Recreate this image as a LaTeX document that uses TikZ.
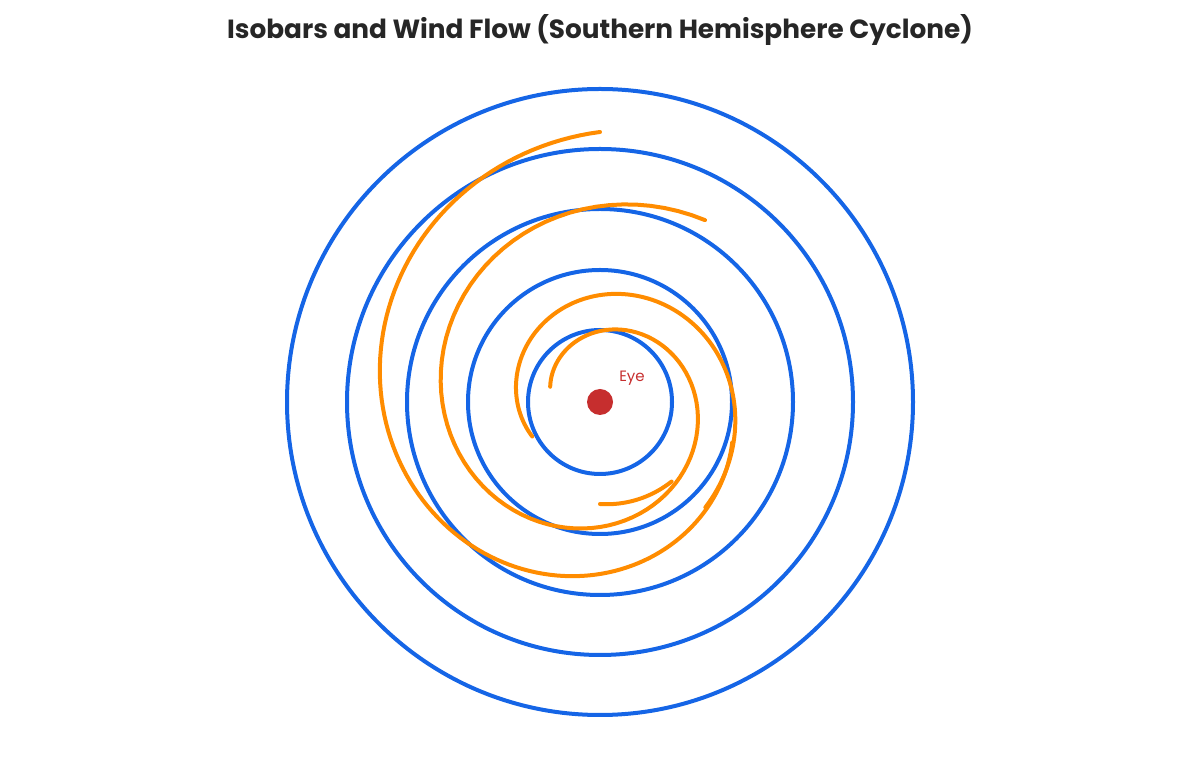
\documentclass[tikz,border=0pt]{standalone}
\usepackage{fontspec}
\setmainfont{Poppins}
\definecolor{isoblue}{HTML}{1565E6}
\definecolor{windor}{HTML}{FF8C00}
\definecolor{eyered}{HTML}{C62E2E}
\begin{document}
\begin{tikzpicture}[x=1pt,y=1pt,
  isobar/.style={draw=isoblue,line width=4pt},
  wind/.style={draw=windor,line width=4pt,line cap=round}]
\useasboundingbox (0,0) rectangle (1200,763);
\node[font=\bfseries\fontsize{26.3}{31}\selectfont,text=black!85] (title) at (600,733) {Isobars and Wind Flow (Southern Hemisphere Cyclone)};
\begin{scope}[shift={(600,361)}]
\coordinate (c) at (0,0);
\foreach \r in {72,132,193,253,313} \draw[isobar] (c) circle (\r);
% spirals: start angle a, sweep S, radii R0 -> R1
\foreach \a/\S/\Ro/\Ri in {60/463/210/52, 315/252/149/76, 90/253/270/138}{
  \pgfmathsetmacro{\k}{ln(\Ro/\Ri)/\S}
  \draw[wind] plot[domain=0:\S,samples=120,variable=\s]
    ({\a+\s}:{0.5*(\Ro*exp(-\k*\s)+\Ro-(\Ro-\Ri)/\S*\s)});
}
\draw[wind] plot[domain=270:312,samples=30,variable=\s] (\s:{102+5*(\s-270)/42});
\fill[eyered] (c) circle (13);
\node[text=eyered,font=\fontsize{15}{18}\selectfont] (eye) at (32,24) {Eye};
\end{scope}
\end{tikzpicture}
\end{document}
